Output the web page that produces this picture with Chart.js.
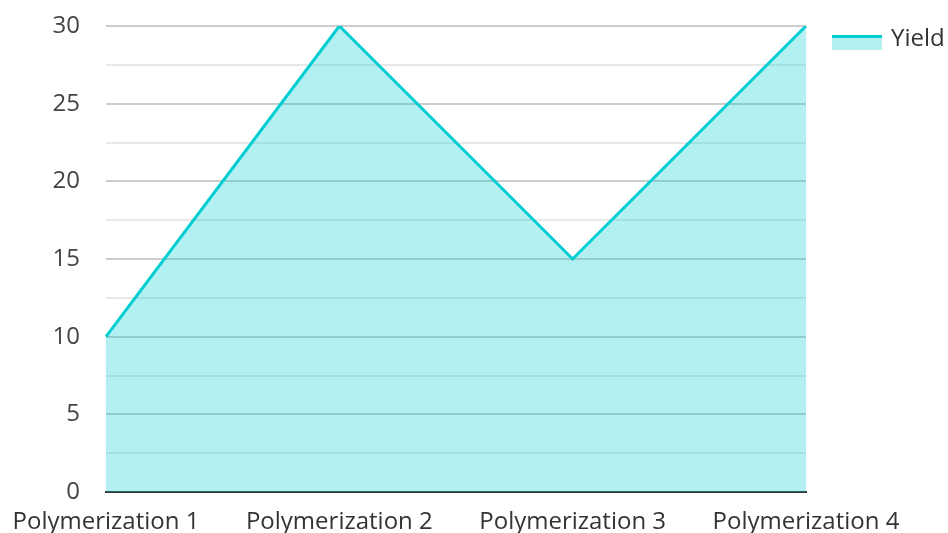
<!DOCTYPE html>
<html>
<head>
<meta charset="utf-8">
<script src="https://cdn.jsdelivr.net/npm/chart.js@4"></script>
<style>
  html, body { margin: 0; padding: 0; background: #fff; }
  #wrap { width: 948px; height: 533px; }
</style>
</head>
<body>
<div id="wrap"><canvas id="chart"></canvas></div>
<script>
const categories = ["Polymerization 1", "Polymerization 2", "Polymerization 3", "Polymerization 4"]
const yieldValues = [10, 30, 15, 30]
const seriesLabel = "Yield"

const lineColor = "#00CED1"
const fillColor = "rgba(0, 206, 209, 0.3)"

// legend drawn by hand: filled swatch with a line on top, to the right of the plot
const sideLegend = {
  id: "sideLegend",
  afterDraw(chart) {
    const ctx = chart.ctx
    const x = chart.chartArea.right + 26
    const y = 35
    ctx.save()
    ctx.fillStyle = fillColor
    ctx.fillRect(x, y, 50, 15)
    ctx.strokeStyle = lineColor
    ctx.lineWidth = 3
    ctx.beginPath()
    ctx.moveTo(x, y + 1.5)
    ctx.lineTo(x + 50, y + 1.5)
    ctx.stroke()
    ctx.fillStyle = "#333"
    ctx.font = "24px 'Open Sans'"
    ctx.textBaseline = "middle"
    ctx.fillText(chart.data.datasets[0].label, x + 59, 39)
    ctx.restore()
  }
}

new Chart(document.getElementById("chart"), {
  type: "line",
  data: {
    labels: categories,
    datasets: [
      {
        label: seriesLabel,
        data: yieldValues,
        borderColor: lineColor,
        backgroundColor: fillColor,
        borderWidth: 3,
        pointRadius: 0,
        tension: 0,
        fill: "origin"
      }
    ]
  },
  options: {
    responsive: true,
    maintainAspectRatio: false,
    animation: false,
    layout: {
      padding: { top: 26, right: 142, left: 0, bottom: 0 }
    },
    plugins: {
      legend: { display: false },
      tooltip: { enabled: false }
    },
    scales: {
      x: {
        offset: false,
        grid: { display: false },
        border: { display: true, color: "#333", width: 2 },
        afterFit: function(scale) { scale.height = 41 },
        ticks: {
          color: "#333",
          padding: 8,
          maxRotation: 0,
          font: { family: "'Open Sans'", size: 24 }
        }
      },
      y: {
        min: 0,
        max: 30,
        border: { display: false },
        afterFit: function(scale) {
          scale.width = 106
          scale.paddingTop = 0
          scale.paddingBottom = 0
        },
        grid: {
          drawTicks: false,
          lineWidth: 2,
          color: function(ctx) {
            const v = ctx.tick ? ctx.tick.value : 0
            return v % 5 === 0 ? "#cccccc" : "#e8e8e8"
          }
        },
        ticks: {
          stepSize: 2.5,
          color: "#444",
          padding: 26,
          font: { family: "'Open Sans'", size: 24 },
          callback: function(value) {
            return value % 5 === 0 ? value : ""
          }
        }
      }
    }
  },
  plugins: [sideLegend]
})
</script>
</body>
</html>
